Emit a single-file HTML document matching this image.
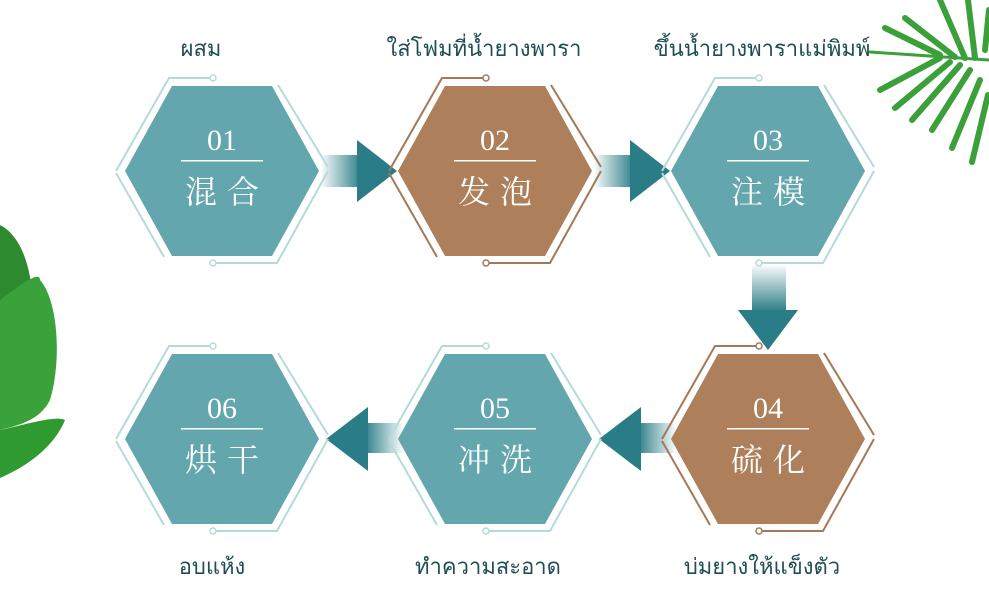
<!DOCTYPE html>
<html><head><meta charset="utf-8">
<style>
html,body{margin:0;padding:0;background:#fff;}
svg{display:block;}
.lbl{font-family:"Liberation Sans","DejaVu Sans","Noto Sans CJK SC",sans-serif;font-size:22px;fill:#1f4e52;}
.num{font-family:"Liberation Serif","Noto Serif CJK SC",serif;font-size:30px;fill:#fff;}
.cjk{font-family:"Noto Serif CJK SC","Liberation Serif",serif;font-size:32px;fill:#fff;letter-spacing:10px;}
</style></head>
<body>
<svg width="989" height="599" viewBox="0 0 989 599" xmlns="http://www.w3.org/2000/svg">
<defs>
<linearGradient id="gr" x1="0" x2="1" y1="0" y2="0"><stop offset="0" stop-color="#2a7d86" stop-opacity="0.05"/><stop offset="1" stop-color="#2a7d86"/></linearGradient>
<linearGradient id="gl" x1="1" x2="0" y1="0" y2="0"><stop offset="0" stop-color="#2a7d86" stop-opacity="0.05"/><stop offset="1" stop-color="#2a7d86"/></linearGradient>
<linearGradient id="gd" x1="0" x2="0" y1="0" y2="1"><stop offset="0" stop-color="#2a7d86" stop-opacity="0.05"/><stop offset="1" stop-color="#2a7d86"/></linearGradient>
<g id="ot" fill="none" stroke-width="2">
<path d="M-106,0 L-53,-93 L-9,-93"/>
<path d="M-106,2 L-58,86"/>
<path d="M56,-86 L106,-4"/>
<path d="M106,0 L55,92 L-9,92"/>
</g>
</defs>

<!-- leaves -->
<g>
<path d="M0,225 C30,240 38,300 28,330 C20,360 8,380 0,390 Z" fill="#2e8a2e"/>
<path d="M0,300 C20,285 40,270 40,280 C58,300 62,360 50,400 C40,420 20,425 0,430 Z" fill="#3aa23a"/>
<path d="M0,430 C25,425 55,415 65,420 C55,445 30,465 0,478 Z" fill="#2f9a30"/>
<g stroke="#3ca03a" stroke-width="6" fill="none" stroke-linecap="round">
<path d="M989,60 L870,52" stroke-width="3"/>
<path d="M940,55 L885,28"/>
<path d="M955,57 L905,18"/>
<path d="M965,58 L940,0"/>
<path d="M975,58 L968,0"/>
<path d="M985,50 L989,10"/>
<path d="M940,58 L880,90"/>
<path d="M950,62 L895,108"/>
<path d="M960,65 L912,120"/>
<path d="M970,70 L932,130"/>
<path d="M980,80 L952,148"/>
<path d="M988,95 L972,162"/>
</g>
</g>

<!-- arrows -->
<rect x="322" y="155" width="40" height="32" fill="url(#gr)"/>
<polygon points="357,140 397,171 357,202" fill="#2a7d86"/>
<rect x="595" y="155" width="40" height="32" fill="url(#gr)"/>
<polygon points="630,140 670,171 630,202" fill="#2a7d86"/>
<rect x="752" y="266" width="34" height="46" fill="url(#gd)"/>
<polygon points="738,310 798,310 768,350" fill="#2a7d86"/>
<rect x="364" y="423" width="38" height="30" fill="url(#gl)"/>
<polygon points="368,407 326,439 368,471" fill="#2a7d86"/>
<rect x="637" y="423" width="38" height="30" fill="url(#gl)"/>
<polygon points="641,407 599,439 641,471" fill="#2a7d86"/>

<!-- hexes -->
<g transform="translate(222,171)">
<use href="#ot" stroke="#b5dadd"/><circle cx="-9" cy="-93" r="3" fill="#fff" stroke="#b5dadd" stroke-width="1.5"/><circle cx="-9" cy="92" r="3" fill="#fff" stroke="#b5dadd" stroke-width="1.5"/>
<polygon points="-97,0 -50,-85 50,-85 97,0 50,85 -50,85" fill="#63a6ae"/>
<text class="num" x="0" y="-21" text-anchor="middle">01</text><rect x="-41" y="-11" width="82" height="1.5" fill="#fff"/>
<text class="cjk" x="5" y="32" text-anchor="middle">混合</text></g>

<g transform="translate(495,171)">
<use href="#ot" stroke="#a47858"/><circle cx="-9" cy="-93" r="3" fill="#fff" stroke="#a47858" stroke-width="1.5"/><circle cx="-9" cy="92" r="3" fill="#fff" stroke="#a47858" stroke-width="1.5"/>
<polygon points="-97,0 -50,-85 50,-85 97,0 50,85 -50,85" fill="#ad7f5b"/>
<text class="num" x="0" y="-21" text-anchor="middle">02</text><rect x="-41" y="-11" width="82" height="1.5" fill="#fff"/>
<text class="cjk" x="5" y="32" text-anchor="middle">发泡</text></g>

<g transform="translate(768,171)">
<use href="#ot" stroke="#b5dadd"/><circle cx="-9" cy="-93" r="3" fill="#fff" stroke="#b5dadd" stroke-width="1.5"/><circle cx="-9" cy="92" r="3" fill="#fff" stroke="#b5dadd" stroke-width="1.5"/>
<polygon points="-97,0 -50,-85 50,-85 97,0 50,85 -50,85" fill="#63a6ae"/>
<text class="num" x="0" y="-21" text-anchor="middle">03</text><rect x="-41" y="-11" width="82" height="1.5" fill="#fff"/>
<text class="cjk" x="5" y="32" text-anchor="middle">注模</text></g>

<g transform="translate(768,439)">
<use href="#ot" stroke="#a47858"/><circle cx="-9" cy="-93" r="3" fill="#fff" stroke="#a47858" stroke-width="1.5"/><circle cx="-9" cy="92" r="3" fill="#fff" stroke="#a47858" stroke-width="1.5"/>
<polygon points="-97,0 -50,-85 50,-85 97,0 50,85 -50,85" fill="#ad7f5b"/>
<text class="num" x="0" y="-21" text-anchor="middle">04</text><rect x="-41" y="-11" width="82" height="1.5" fill="#fff"/>
<text class="cjk" x="5" y="32" text-anchor="middle">硫化</text></g>

<g transform="translate(495,439)">
<use href="#ot" stroke="#b5dadd"/><circle cx="-9" cy="-93" r="3" fill="#fff" stroke="#b5dadd" stroke-width="1.5"/><circle cx="-9" cy="92" r="3" fill="#fff" stroke="#b5dadd" stroke-width="1.5"/>
<polygon points="-97,0 -50,-85 50,-85 97,0 50,85 -50,85" fill="#63a6ae"/>
<text class="num" x="0" y="-21" text-anchor="middle">05</text><rect x="-41" y="-11" width="82" height="1.5" fill="#fff"/>
<text class="cjk" x="5" y="32" text-anchor="middle">冲洗</text></g>

<g transform="translate(222,439)">
<use href="#ot" stroke="#b5dadd"/><circle cx="-9" cy="-93" r="3" fill="#fff" stroke="#b5dadd" stroke-width="1.5"/><circle cx="-9" cy="92" r="3" fill="#fff" stroke="#b5dadd" stroke-width="1.5"/>
<polygon points="-97,0 -50,-85 50,-85 97,0 50,85 -50,85" fill="#63a6ae"/>
<text class="num" x="0" y="-21" text-anchor="middle">06</text><rect x="-41" y="-11" width="82" height="1.5" fill="#fff"/>
<text class="cjk" x="5" y="32" text-anchor="middle">烘干</text></g>

<!-- labels -->
<text class="lbl" x="201" y="56" text-anchor="middle">ผสม</text>
<text class="lbl" x="484" y="56" text-anchor="middle">ใส่โฟมที่น้ำยางพารา</text>
<text class="lbl" x="762" y="56" text-anchor="middle">ขึ้นน้ำยางพาราแม่พิมพ์</text>
<text class="lbl" x="212" y="574" text-anchor="middle">อบแห้ง</text>
<text class="lbl" x="488" y="574" text-anchor="middle">ทำความสะอาด</text>
<text class="lbl" x="762" y="574" text-anchor="middle">บ่มยางให้แข็งตัว</text>
</svg>
</body></html>
